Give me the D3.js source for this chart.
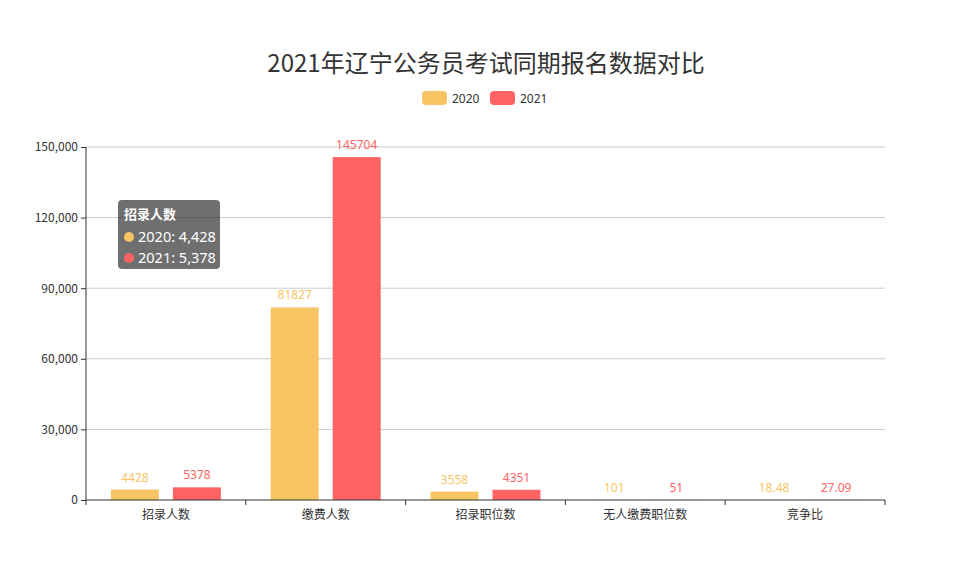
<!DOCTYPE html>
<html lang="zh">
<head>
<meta charset="UTF-8">
<script src="https://d3js.org/d3.v7.min.js"></script>
<style>
  body { margin: 0; background: #fff; font-family: "Noto Sans CJK SC", "Noto Sans", sans-serif; }
  .axis text { font-size: 12px; fill: #333; font-family: "Noto Sans CJK SC", sans-serif; }
  .axis path, .axis line { stroke: #333; }
</style>
</head>
<body>
<div id="chart"></div>
<script>
// Data
const categories = ["招录人数", "缴费人数", "招录职位数", "无人缴费职位数", "竞争比"];
const seriesNames = ["2020", "2021"];
const values2020 = [4428, 81827, 3558, 101, 18.48];
const values2021 = [5378, 145704, 4351, 51, 27.09];
const yTicks = [0, 30000, 60000, 90000, 120000, 150000];
const colors = ["#f7c564", "#ff6364"];

const width = 956, height = 563;
const margin = { top: 147, right: 71, bottom: 63, left: 86 };

const svg = d3.select("#chart").append("svg")
  .attr("width", width).attr("height", height);

// Title
svg.append("text")
  .attr("x", 486).attr("y", 72)
  .attr("text-anchor", "middle")
  .attr("font-size", 24)
  .attr("fill", "#333")
  .text("2021年辽宁公务员考试同期报名数据对比");

// Legend
const legend = svg.append("g").attr("transform", "translate(422,91)");
seriesNames.forEach((name, i) => {
  const g = legend.append("g").attr("transform", `translate(${i * 68},0)`);
  g.append("rect").attr("width", 25).attr("height", 14).attr("rx", 4).attr("fill", colors[i]);
  g.append("text").attr("x", 30).attr("y", 11.5).attr("font-size", 12).attr("fill", "#333")
    .attr("font-family", "'Noto Sans', sans-serif").text(name);
});

// Scales
const x = d3.scaleBand().domain(categories).range([margin.left, width - margin.right]);
const y = d3.scaleLinear().domain([0, 150000]).range([height - margin.bottom, margin.top]);
const bw = 48, gap = 14;

// Grid lines
svg.append("g").selectAll("line").data(yTicks.filter(d => d > 0)).join("line")
  .attr("x1", margin.left).attr("x2", width - margin.right)
  .attr("y1", d => y(d)).attr("y2", d => y(d))
  .attr("stroke", "#ccc");

// Bars + labels
[values2020, values2021].forEach((vals, si) => {
  const offset = si === 0 ? -gap / 2 - bw : gap / 2;
  svg.append("g").selectAll("rect").data(vals).join("rect")
    .attr("x", (d, i) => x(categories[i]) + x.bandwidth() / 2 + offset)
    .attr("width", bw)
    .attr("y", d => y(d))
    .attr("height", d => y(0) - y(d))
    .attr("fill", colors[si]);
  svg.append("g").selectAll("text").data(vals).join("text")
    .attr("x", (d, i) => x(categories[i]) + x.bandwidth() / 2 + offset + bw / 2)
    .attr("y", d => y(d) - 8)
    .attr("text-anchor", "middle")
    .attr("font-size", 12)
    .attr("font-family", "'Noto Sans', sans-serif")
    .attr("fill", colors[si])
    .text(d => d);
});

// Axes
svg.append("g").attr("class", "axis")
  .attr("transform", `translate(0,${y(0)})`)
  .call(d3.axisBottom(x).tickSize(0).tickPadding(10))
  .call(g => g.selectAll(".tick text").attr("dy", "0.71em"))
  .call(g => g.selectAll(".domain").attr("d", `M${margin.left},0H${width - margin.right}`));
// boundary ticks on x axis
svg.append("g").selectAll("line")
  .data(d3.range(categories.length + 1))
  .join("line")
  .attr("x1", i => margin.left + i * x.bandwidth()).attr("x2", i => margin.left + i * x.bandwidth())
  .attr("y1", y(0)).attr("y2", y(0) + 5)
  .attr("stroke", "#333");

svg.append("g").attr("class", "axis")
  .attr("transform", `translate(${margin.left},0)`)
  .call(d3.axisLeft(y).tickValues(yTicks).tickSize(5).tickPadding(3).tickFormat(d3.format(",")))
  .call(g => g.selectAll(".tick text").attr("font-family", "'Noto Sans', sans-serif").attr("fill", "#333"))
  .call(g => g.select(".domain").attr("d", `M0,${y(150000)}V${y(0)}`));

// Tooltip (first category)
const tip = svg.append("g").attr("transform", "translate(118,200)");
tip.append("rect").attr("width", 102).attr("height", 69).attr("rx", 4)
  .attr("fill", "rgba(50,50,50,0.7)");
tip.append("text").attr("x", 6).attr("y", 19).attr("fill", "#fff").attr("font-size", 13)
  .attr("font-weight", "bold").text(categories[0]);
[values2020, values2021].forEach((vals, si) => {
  tip.append("circle").attr("cx", 11).attr("cy", 37 + si * 21).attr("r", 5).attr("fill", colors[si]);
  tip.append("text").attr("x", 20).attr("y", 42 + si * 21).attr("fill", "#fff").attr("font-size", 14.5)
    .attr("font-family", "'Noto Sans', sans-serif")
    .text(`${seriesNames[si]}: ${d3.format(",")(vals[0])}`);
});
</script>
</body>
</html>
